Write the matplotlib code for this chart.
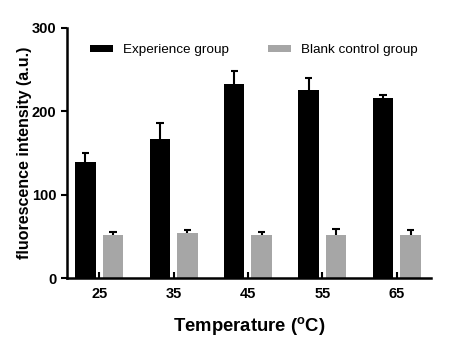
import numpy as np
import matplotlib
matplotlib.use("Agg")
import matplotlib.pyplot as plt

plt.rcParams['font.family'] = ['Liberation Sans', 'DejaVu Sans']
plt.rcParams['mathtext.fontset'] = 'custom'
plt.rcParams['mathtext.bf'] = 'Liberation Sans:bold'
plt.rcParams['mathtext.rm'] = 'Liberation Sans:bold'

# ---------------------------
# Data
# ---------------------------
temps = ["25", "35", "45", "55", "65"]
exp_mean = [140, 167, 233, 226, 216]
exp_err = [10, 19, 15.5, 13.5, 3.5]
blank_mean = [52.5, 54, 52.5, 52.5, 52.5]
blank_err = [2.5, 4.5, 2.5, 7, 6]

x = np.arange(len(temps))
w = 0.275
off = 0.1845
cap = 0.05

fig = plt.figure(figsize=(4.74, 3.45), dpi=100)
ax = fig.add_axes([0.141, 0.193, 0.768, 0.726])

ax.bar(x - off, exp_mean, w, color="black", label="Experience group", zorder=2)
ax.bar(x + off, blank_mean, w, color="#a6a6a6", label="Blank control group", zorder=2)

# upper-only error bars
for xs, m, e in [(x - off, exp_mean, exp_err), (x + off, blank_mean, blank_err)]:
    top = np.array(m) + np.array(e)
    ax.vlines(xs, m, top, color="black", lw=1.5, zorder=3)
    ax.hlines(top, xs - cap, xs + cap, color="black", lw=1.5, zorder=3)

ax.set_xlim(-0.434, 4.458)
ax.set_ylim(0, 300)
ax.set_yticks([0, 100, 200, 300])
ax.set_xticks(x)
ax.set_xticklabels(temps)

for s in ["top", "right"]:
    ax.spines[s].set_visible(False)
for s in ["left", "bottom"]:
    ax.spines[s].set_linewidth(1.8)

ax.tick_params(axis="y", direction="out", length=4, width=1.5, labelsize=10.5)
ax.tick_params(axis="x", direction="in", length=4, width=1.5, labelsize=10.5, pad=6)
for lab in ax.get_xticklabels() + ax.get_yticklabels():
    lab.set_fontweight("bold")

ax.set_ylabel("fluorescence intensity (a.u.)", fontsize=11.5, fontweight="bold", labelpad=0)
ax.set_xlabel(r"Temperature ($\mathbf{^o}$C)", fontsize=13.3, fontweight="bold", labelpad=10)

ax.legend(loc="center left", bbox_to_anchor=(0.063, 0.911), ncol=2, frameon=False,
          fontsize=9.7, handlelength=1.75, handleheight=0.5, columnspacing=2.9,
          handletextpad=0.7, borderpad=0, borderaxespad=0)

plt.savefig("out.png", dpi=100)
